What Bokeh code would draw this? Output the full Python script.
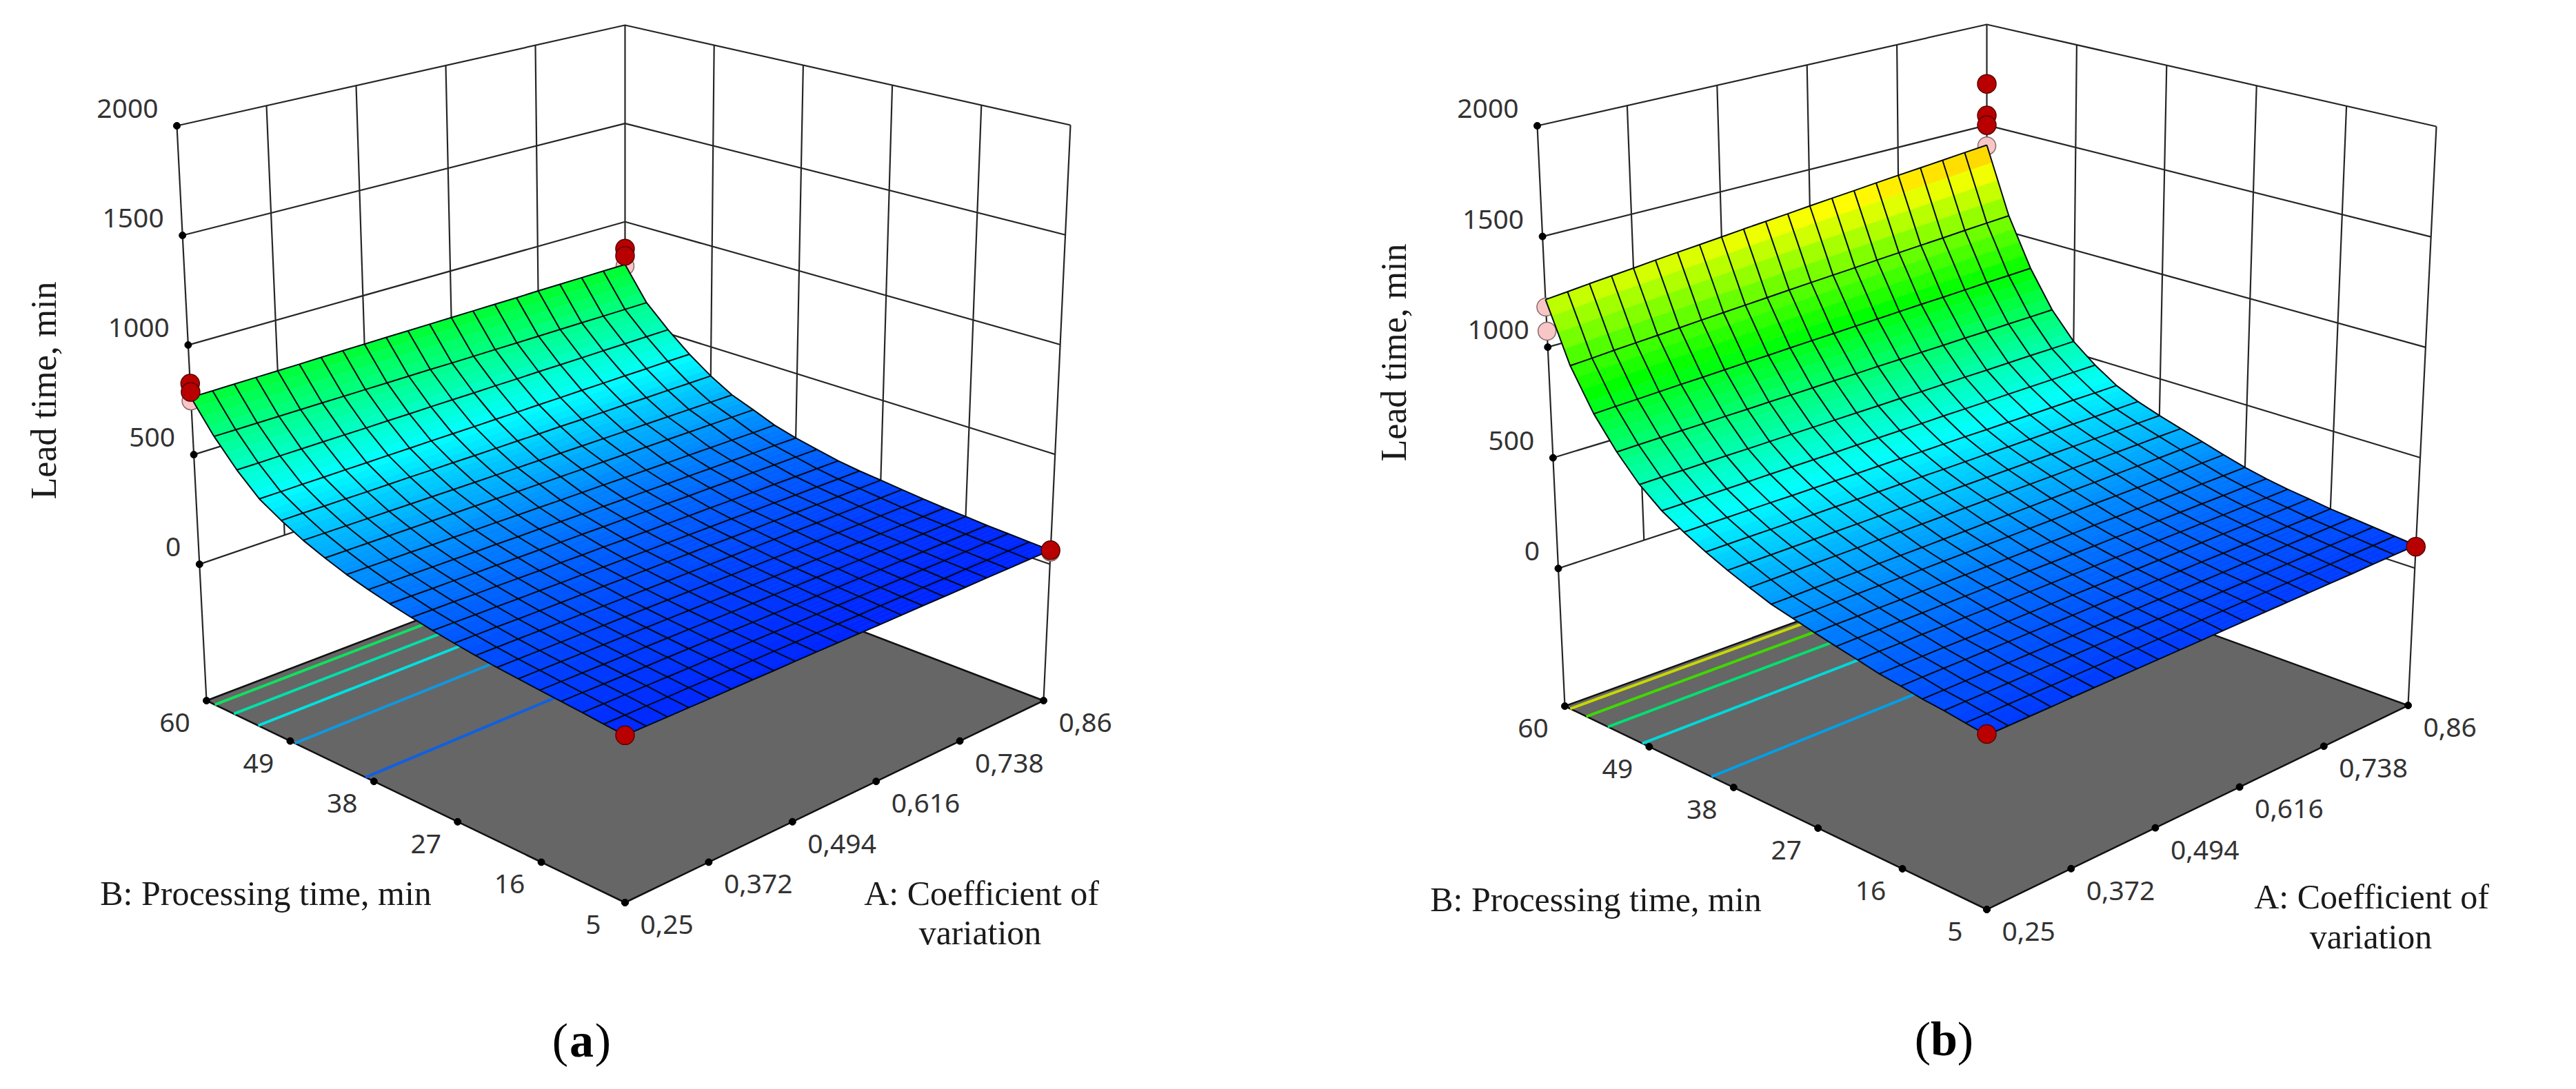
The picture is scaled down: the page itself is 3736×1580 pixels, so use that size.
import numpy as np
from bokeh.core.properties import value
from bokeh.embed import file_html
from bokeh.layouts import row
from bokeh.models import ColumnDataSource, LinearColorMapper, Range1d
from bokeh.plotting import figure
from bokeh.resources import INLINE

# axis ticks
A_TICKS = [0.25, 0.372, 0.494, 0.616, 0.738, 0.86]
A_LABELS = ["0,25", "0,372", "0,494", "0,616", "0,738", "0,86"]
B_TICKS = [5, 16, 27, 38, 49, 60]
B_LABELS = ["5", "16", "27", "38", "49", "60"]
Z_TICKS = [0, 500, 1000, 1500, 2000]
Z_LABELS = ["0", "500", "1000", "1500", "2000"]

lead_a = [
    [761,762,763,764,765,766,768,769,770,771,772,773,774,775,776,777,779,780,781,782,783],
    [623,623,623,623,623,623,623,623,623,623,623,622,622,622,622,622,622,622,622,622,622],
    [511,511,512,512,513,513,513,514,514,515,515,515,516,516,517,517,517,518,518,519,519],
    [421,421,422,422,423,423,424,424,425,425,425,426,426,427,427,428,428,429,429,430,430],
    [364,364,363,363,362,362,362,361,361,360,360,360,359,359,358,358,358,357,357,356,356],
    [316,315,314,313,312,311,310,309,308,307,306,305,304,303,302,301,300,299,298,297,296],
    [278,277,276,275,274,273,272,271,270,268,267,266,265,264,263,262,261,260,259,258,257],
    [245,244,242,241,239,238,236,235,233,232,230,229,228,226,225,223,222,220,219,217,216],
    [219,217,216,214,213,211,210,208,207,205,203,202,200,199,197,196,194,193,191,190,188],
    [197,196,194,193,191,190,188,187,185,184,182,181,179,178,176,175,173,172,170,169,167],
    [178,176,175,173,172,170,168,167,165,164,162,160,159,157,156,154,152,151,149,148,146],
    [161,160,158,157,155,154,152,151,149,148,146,145,144,142,141,139,138,136,135,133,132],
    [146,145,144,142,141,140,139,138,136,135,134,133,132,130,129,128,127,126,124,123,122],
    [133,132,131,130,129,128,126,125,124,123,122,121,120,119,118,117,115,114,113,112,111],
    [122,121,120,119,118,117,116,115,114,113,112,110,109,108,107,106,105,104,103,102,101],
    [113,112,111,110,109,108,107,106,105,104,102,101,100,99,98,97,96,95,94,93,92],
    [104,103,102,101,100,100,99,98,97,96,95,94,93,92,91,90,90,89,88,87,86],
    [96,95,94,93,92,92,91,90,89,88,87,86,85,84,83,82,82,81,80,79,78],
    [88,87,87,86,85,84,84,83,82,81,80,80,79,78,77,76,76,75,74,74,73],
    [79,78,78,77,77,76,76,75,75,74,74,73,72,72,71,71,70,70,69,69,68],
    [71,71,70,70,69,69,69,68,68,68,67,67,66,66,66,65,65,65,64,64,63],
]
lead_b = [
    [1215,1224,1234,1243,1252,1262,1271,1280,1289,1299,1308,1317,1327,1336,1345,1355,1364,1373,1382,1392,1401],
    [955,961,968,974,980,986,993,999,1005,1011,1018,1024,1030,1036,1043,1049,1055,1061,1068,1074,1080],
    [778,782,785,789,793,796,800,804,807,811,815,818,822,825,829,833,836,840,844,847,851],
    [647,649,650,652,653,655,656,658,659,661,663,664,666,667,669,670,672,673,675,676,678],
    [542,543,543,544,545,545,546,547,547,548,549,549,550,550,551,552,552,553,554,554,555],
    [466,466,467,467,467,468,468,468,468,469,469,469,469,470,470,470,471,471,471,472,472],
    [412,412,411,411,411,410,410,410,409,409,409,408,408,408,407,407,406,406,406,405,405],
    [365,365,365,364,364,364,364,363,363,363,363,362,362,362,361,361,361,361,360,360,360],
    [325,325,325,325,325,325,325,325,325,325,325,325,325,325,325,325,325,325,325,325,325],
    [290,290,291,291,291,291,292,292,292,292,293,293,293,293,293,294,294,294,294,295,295],
    [258,258,259,259,259,260,260,260,261,261,262,262,262,263,263,263,264,264,264,265,265],
    [237,237,237,237,237,236,236,236,236,236,236,236,236,236,236,235,235,235,235,235,235],
    [216,216,215,215,214,214,214,213,213,212,212,212,211,211,210,210,210,209,209,208,208],
    [197,197,196,196,195,195,194,194,193,193,192,192,191,191,190,190,189,189,188,188,187],
    [179,179,178,178,177,177,176,176,175,175,175,174,174,173,173,172,172,171,171,170,170],
    [160,160,160,160,159,159,159,159,159,159,158,158,158,158,158,158,158,157,157,157,157],
    [148,148,148,147,147,147,147,146,146,146,146,145,145,145,145,144,144,144,144,143,143],
    [133,133,133,133,133,133,133,133,133,133,133,133,133,133,133,133,133,133,133,133,133],
    [124,124,124,124,124,124,124,124,124,124,123,123,123,123,123,123,123,123,123,123,123],
    [112,112,112,112,112,112,112,112,112,112,112,113,113,113,113,113,113,113,113,113,113],
    [100,100,100,100,101,101,101,101,101,101,101,102,102,102,102,102,102,102,103,103,103],
]

# design points as (A, B, lead time)
red_a = [(0.25, 60, 824), (0.25, 60, 786), (0.86, 60, 863), (0.86, 60, 827), (0.86, 5, 63), (0.25, 5, 71)]
pink_a = [(0.25, 60, 745), (0.86, 60, 775), (0.86, 5, 55)]
red_b = [(0.86, 60, 1705), (0.86, 60, 1548), (0.86, 60, 1500), (0.86, 5, 97), (0.25, 5, 105)]
pink_b = [(0.86, 60, 1397), (0.25, 60, 1181), (0.25, 60, 1072)]

# contours on the floor, they run along A at these B values
contour_b_a = [58.9, 56.4, 53.2, 48.4, 39.1]
contour_colors_a = ["#10e060", "#00e0a8", "#00e0e0", "#1098e0", "#1060e0"]
contour_b_b = [59.3, 57.2, 54.4, 49.9, 40.9]
contour_colors_b = ["#c8d800", "#40d800", "#00e070", "#00d8d8", "#00a0e8"]

Z_FLOOR = -622
Z_TOP = 2000

# where the box corners land on the page: front, right, left, back
FLOOR_A = [(914, 1317), (1521, 1024), (307, 1024), (914, 792)]
TOP_A = [(914, 399), (1560, 189), (264, 190), (914, 44)]
FLOOR_B = [(2889, 1327), (3500, 1031), (2277, 1032), (2889, 809)]
TOP_B = [(2889, 409), (3541, 191), (2237, 190), (2889, 43)]

TICK_FONT = value("Noto Sans")
TITLE_FONT = value("Liberation Serif")

# rainbow of the software, shared by both plots
stops = [0, 420, 850, 1300, 1700, 2000]
stop_r = [0, 0, 0, 255, 255, 255]
stop_g = [0, 255, 255, 255, 0, 0]
stop_b = [255, 255, 0, 0, 0, 0]
levels = np.linspace(0, 2000, 256)
palette = ["#%02x%02x%02x" % (int(np.interp(l, stops, stop_r)), int(np.interp(l, stops, stop_g)),
                              int(np.interp(l, stops, stop_b))) for l in levels]
mapper = LinearColorMapper(palette=palette, low=0, high=2000)


def project(floor, top, a, b, z):
    # the box is drawn with the look of the original, so blend between the 8 corners
    a, b, z = np.asarray(a, float), np.asarray(b, float), np.asarray(z, float)
    u = (a - 0.25) / 0.61
    v = (b - 5) / 55
    w = (z - Z_FLOOR) / (Z_TOP - Z_FLOOR)
    out = []
    for k in (0, 1):
        fl = (1-u)*(1-v)*floor[0][k] + u*(1-v)*floor[1][k] + (1-u)*v*floor[2][k] + u*v*floor[3][k]
        tp = (1-u)*(1-v)*top[0][k] + u*(1-v)*top[1][k] + (1-u)*v*top[2][k] + u*v*top[3][k]
        out.append(fl*(1-w) + tp*w)
    return out[0], out[1]


def draw_panel(x_start, x_end, floor, top, lead, red, pink, contour_b, contour_colors, titles, letter):
    p = figure(width=1860, height=1564, x_range=Range1d(x_start, x_end), y_range=Range1d(1572, 8),
               output_backend="svg", toolbar_location=None, min_border=0)
    p.axis.visible = False
    p.grid.visible = False
    p.outline_line_color = None
    p.background_fill_color = "white"

    def proj(a, b, z):
        return project(floor, top, a, b, z)

    # walls
    xs, ys = [], []
    for z in Z_TICKS:
        x, y = proj([0.25, 0.86, 0.86], [60, 60, 5], [z, z, z])
        xs.append(list(x))
        ys.append(list(y))
    for a in A_TICKS:
        low = Z_FLOOR if a in (0.25, 0.86) else 0
        x, y = proj([a, a], [60, 60], [low, Z_TOP])
        xs.append(list(x))
        ys.append(list(y))
    for b in B_TICKS[:-1]:
        low = Z_FLOOR if b == 5 else 0
        x, y = proj([0.86, 0.86], [b, b], [low, Z_TOP])
        xs.append(list(x))
        ys.append(list(y))
    p.multi_line(xs, ys, line_color="#262626", line_width=2.2)

    # floor
    fx, fy = proj([0.25, 0.86, 0.86, 0.25], [5, 5, 60, 60], [Z_FLOOR]*4)
    p.patch(list(fx), list(fy), fill_color="#666666", line_color="#111111", line_width=2.5)
    for b, c in zip(contour_b, contour_colors):
        x, y = proj([0.25, 0.86], [b, b], [Z_FLOOR, Z_FLOOR])
        p.line(list(x), list(y), line_color=c, line_width=4)

    # design points under the surface
    x, y = proj(*zip(*pink))
    p.scatter(list(x), list(y), size=26, fill_color="#f8c6c6", line_color="#8a6a6a", line_width=1.5)

    # surface, each cell split in bands so the colour runs smoothly
    table = np.array(lead, float)
    b_grid = np.linspace(60, 5, table.shape[0])
    a_grid = np.linspace(0.25, 0.86, table.shape[1])
    aa, bb = np.meshgrid(a_grid, b_grid)
    gx, gy = proj(aa, bb, table)
    nsub = 4
    cell_x, cell_y, cell_z = [], [], []
    for i in range(table.shape[0] - 1):
        for j in range(table.shape[1] - 1):
            for s in range(nsub):
                t0, t1 = s/nsub, (s+1)/nsub
                lx0 = gx[i, j] + (gx[i+1, j]-gx[i, j])*t0
                lx1 = gx[i, j] + (gx[i+1, j]-gx[i, j])*t1
                rx0 = gx[i, j+1] + (gx[i+1, j+1]-gx[i, j+1])*t0
                rx1 = gx[i, j+1] + (gx[i+1, j+1]-gx[i, j+1])*t1
                ly0 = gy[i, j] + (gy[i+1, j]-gy[i, j])*t0
                ly1 = gy[i, j] + (gy[i+1, j]-gy[i, j])*t1
                ry0 = gy[i, j+1] + (gy[i+1, j+1]-gy[i, j+1])*t0
                ry1 = gy[i, j+1] + (gy[i+1, j+1]-gy[i, j+1])*t1
                cell_x.append([lx0, rx0, rx1, lx1])
                cell_y.append([ly0, ry0, ry1, ly1])
                top_z = (table[i, j] + table[i, j+1]) / 2
                bot_z = (table[i+1, j] + table[i+1, j+1]) / 2
                cell_z.append(top_z + (bot_z-top_z)*(t0+t1)/2)
    surf = ColumnDataSource(dict(xs=cell_x, ys=cell_y, z=cell_z))
    p.patches("xs", "ys", source=surf, fill_color={"field": "z", "transform": mapper},
              line_color={"field": "z", "transform": mapper}, line_width=0.6)
    mesh_x = [list(r) for r in gx] + [list(r) for r in gx.T]
    mesh_y = [list(r) for r in gy] + [list(r) for r in gy.T]
    p.multi_line(mesh_x, mesh_y, line_color="#020a12", line_width=2)

    # tick dots
    x1, y1 = proj(np.array(A_TICKS), [5]*6, [Z_FLOOR]*6)
    x2, y2 = proj([0.25]*6, np.array(B_TICKS), [Z_FLOOR]*6)
    x3, y3 = proj([0.25]*5, [60]*5, np.array(Z_TICKS))
    p.scatter(list(x1) + list(x2) + list(x3), list(y1) + list(y2) + list(y3), size=10, color="black")

    # design points above the surface
    x, y = proj(*zip(*red))
    p.scatter(list(x), list(y), size=27, fill_color="#b80000", line_color="#5a0000", line_width=1.5)

    # tick labels
    p.text(list(x1 + 22), list(y1 + 32), text=A_LABELS, text_font=TICK_FONT, text_font_size="39px",
           text_color="#333333", text_align="left", text_baseline="middle")
    p.text(list(x2 - 46), list(y2 + 32), text=B_LABELS, text_font=TICK_FONT, text_font_size="39px",
           text_color="#333333", text_align="center", text_baseline="middle")
    p.text(list(x3 - 27), list(y3 - 25), text=Z_LABELS, text_font=TICK_FONT, text_font_size="39px",
           text_color="#333333", text_align="right", text_baseline="middle")

    # axis titles
    (bx, by), (ax, ay), (vx, vy), (lx, ly) = titles
    p.text([bx, ax, vx], [by, ay, vy], text=["B: Processing time, min", "A: Coefficient of", "variation"],
           text_font=TITLE_FONT, text_font_size="50px", text_color="#1a1a1a",
           text_align="center", text_baseline="middle")
    p.text([lx], [ly], text=["Lead time, min"], angle=np.pi/2, text_font=TITLE_FONT,
           text_font_size="52px", text_color="#1a1a1a", text_align="center", text_baseline="middle")

    # panel letter
    tx, ty = letter[1:]
    p.text([tx - 31, tx + 31], [ty, ty], text=["(", ")"], text_font=TITLE_FONT, text_font_size="70px",
           text_color="black", text_align="center", text_baseline="middle")
    p.text([tx], [ty], text=[letter[0]], text_font=TITLE_FONT, text_font_size="70px", text_font_style="bold",
           text_color="black", text_align="center", text_baseline="middle")
    return p


fig_a = draw_panel(8, 1868, FLOOR_A, TOP_A, lead_a, red_a, pink_a, contour_b_a, contour_colors_a,
                   [(393, 1303), (1431, 1303), (1429, 1360), (71, 574)], ("a", 851, 1517))
fig_b = draw_panel(1868, 3728, FLOOR_B, TOP_B, lead_b, red_b, pink_b, contour_b_b, contour_colors_b,
                   [(2322, 1312), (3447, 1308), (3446, 1366), (2029, 519)], ("b", 2827, 1515))

page = row(fig_a, fig_b, spacing=0)
open("out.html", "w").write(file_html(page, INLINE))
